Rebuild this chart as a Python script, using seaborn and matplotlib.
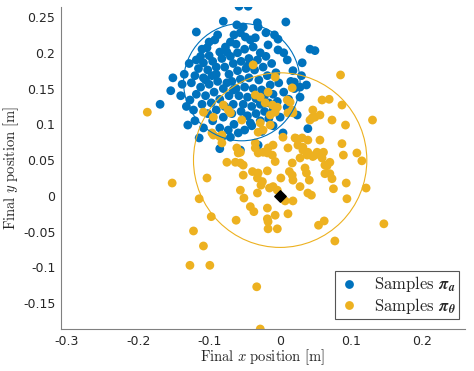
import matplotlib
matplotlib.use("Agg")
import matplotlib.pyplot as plt
from matplotlib.patches import Circle
import pandas as pd
import seaborn as sns

# Final positions
blue_x = [
    -0.058, -0.045, 0.008, -0.080, -0.118, -0.032, -0.031, -0.061, -0.052, -0.056,
    -0.049, -0.042, -0.035, -0.092, -0.070, -0.077, -0.085, -0.075, 0.042, 0.049,
    0.031, 0.030, -0.003, -0.017, -0.003, 0.028, 0.028, 0.039, 0.024, 0.010,
    -0.169, -0.154, -0.151, -0.138, -0.130, -0.114, -0.127, -0.122, -0.085, -0.073,
    -0.082, -0.070, -0.059, -0.042, -0.085, -0.056, -0.031, 0.004, 0.020, 0.037,
    -0.110, -0.103, -0.112, -0.100, -0.108, -0.095, -0.115, -0.102, -0.090, -0.120,
    -0.108, -0.096, -0.125, -0.112, -0.100, -0.088, -0.118, -0.105, -0.093, -0.080,
    -0.110, -0.097, -0.085, -0.072, -0.102, -0.090, -0.078, -0.066, -0.095, -0.080,
    -0.068, -0.055, -0.082, -0.070, -0.060, -0.050, -0.038, -0.028, -0.078, -0.066,
    -0.055, -0.044, -0.032, -0.020, -0.072, -0.060, -0.048, -0.036, -0.024, -0.012,
    -0.068, -0.056, -0.044, -0.030, -0.018, -0.006, -0.062, -0.050, -0.038, -0.026,
    -0.014, -0.002, -0.058, -0.046, -0.034, -0.022, -0.010, 0.005, -0.052, -0.040,
    -0.028, -0.016, -0.004, 0.012, -0.046, -0.034, -0.022, -0.010, -0.040, -0.028,
    -0.016, -0.065, -0.050, 0.015, 0.018, 0.010, 0.020, 0.005, -0.008, -0.020,
    -0.065, -0.088, -0.100, -0.128, -0.135, -0.140, -0.132, -0.120, -0.108, 0.000,
    0.015, -0.026, -0.010, -0.090, -0.062, -0.045, -0.075, -0.105, -0.118, -0.066,
]
blue_y = [
    0.265, 0.265, 0.243, 0.244, 0.229, 0.242, 0.236, 0.239, 0.236, 0.228,
    0.222, 0.218, 0.221, 0.218, 0.215, 0.208, 0.201, 0.201, 0.205, 0.203,
    0.186, 0.168, 0.219, 0.211, 0.204, 0.152, 0.138, 0.094, 0.113, 0.124,
    0.128, 0.147, 0.165, 0.156, 0.099, 0.081, 0.134, 0.120, 0.095, 0.092,
    0.082, 0.082, 0.088, 0.102, 0.066, 0.064, 0.071, 0.088, 0.159, 0.155,
    0.205, 0.207, 0.195, 0.196, 0.186, 0.188, 0.178, 0.176, 0.180, 0.168,
    0.165, 0.168, 0.158, 0.152, 0.156, 0.160, 0.142, 0.140, 0.145, 0.150,
    0.128, 0.130, 0.135, 0.140, 0.115, 0.120, 0.125, 0.128, 0.105, 0.110,
    0.115, 0.118, 0.192, 0.195, 0.200, 0.205, 0.208, 0.200, 0.180, 0.185,
    0.188, 0.192, 0.190, 0.195, 0.170, 0.175, 0.178, 0.176, 0.180, 0.185,
    0.160, 0.163, 0.165, 0.162, 0.168, 0.172, 0.150, 0.152, 0.150, 0.148,
    0.155, 0.158, 0.140, 0.138, 0.136, 0.140, 0.142, 0.145, 0.128, 0.125,
    0.128, 0.130, 0.132, 0.135, 0.112, 0.115, 0.118, 0.120, 0.098, 0.105,
    0.108, 0.100, 0.092, 0.160, 0.175, 0.190, 0.150, 0.200, 0.225, 0.228,
    0.225, 0.225, 0.215, 0.185, 0.170, 0.140, 0.125, 0.105, 0.095, 0.110,
    0.120, 0.090, 0.098, 0.170, 0.212, 0.182, 0.158, 0.162, 0.190, 0.148,
]

gold_x = [
    -0.152, -0.103, -0.114, -0.097, -0.122, -0.108, -0.127, -0.099, -0.062, -0.056,
    -0.051, -0.042, -0.037, -0.032, -0.027, -0.018, -0.018, -0.017, -0.017, -0.004,
    -0.007, 0.011, -0.015, -0.010, -0.004, 0.001, 0.007, 0.018, 0.028, 0.039,
    0.044, 0.054, 0.062, 0.077, 0.094, 0.075, 0.093, 0.121, 0.146, -0.033,
    -0.028, 0.115, 0.108, 0.087, 0.089, 0.070, 0.066, 0.063, 0.070, 0.073,
    0.056, 0.061, 0.052, 0.059, 0.046, 0.039, 0.031, 0.023, 0.032, 0.039,
    0.028, 0.038, 0.037, 0.041, 0.011, 0.017, 0.013, 0.017, 0.018, 0.004,
    -0.010, -0.017, -0.018, -0.011, -0.007, -0.024, -0.031, -0.035, -0.035, -0.039,
    -0.031, -0.032, -0.018, -0.025, -0.052, -0.056, -0.063, -0.075, -0.052, -0.061,
    -0.056, -0.059, -0.082, -0.094, -0.082, 0.035, 0.025, 0.049, 0.021, 0.032,
    -0.187, -0.108, -0.094, -0.096, -0.085, -0.080, -0.073, -0.070, -0.038, -0.054,
    -0.035, -0.028, -0.021, -0.017, -0.011, -0.004, -0.007, -0.014, -0.014, -0.028,
    -0.031, -0.024, 0.010, 0.017, 0.017, 0.011, -0.007, 0.046, 0.049, 0.045,
    0.085, 0.059, 0.069, 0.087, 0.130, 0.092, 0.073, 0.056, 0.042, 0.014,
    0.018, 0.063,
]
gold_y = [
    0.018, 0.025, -0.004, -0.029, -0.049, -0.070, -0.097, -0.097, -0.034, 0.008,
    -0.003, -0.015, -0.022, 0.004, 0.015, -0.017, -0.032, -0.036, -0.046, -0.046,
    -0.027, -0.025, 0.011, 0.013, 0.008, 0.025, -0.007, -0.007, 0.013, 0.004,
    0.001, -0.041, -0.035, -0.063, -0.004, 0.010, 0.018, 0.011, -0.039, -0.127,
    -0.186, 0.049, 0.060, 0.073, 0.057, 0.047, 0.042, 0.031, 0.031, 0.024,
    0.078, 0.061, 0.061, 0.053, 0.055, 0.078, 0.081, 0.080, 0.068, 0.061,
    0.053, 0.057, 0.032, 0.022, 0.067, 0.046, 0.034, 0.029, 0.022, 0.082,
    0.071, 0.067, 0.060, 0.057, 0.048, 0.061, 0.060, 0.067, 0.074, 0.034,
    0.032, 0.025, 0.035, 0.020, 0.043, 0.046, 0.047, 0.047, 0.029, 0.067,
    0.061, 0.060, 0.074, 0.085, 0.085, 0.039, 0.071, 0.057, 0.081, 0.064,
    0.117, 0.117, 0.110, 0.088, 0.083, 0.127, 0.120, 0.116, 0.183, 0.106,
    0.141, 0.138, 0.130, 0.145, 0.127, 0.124, 0.117, 0.113, 0.099, 0.102,
    0.089, 0.092, 0.134, 0.151, 0.120, 0.116, 0.166, 0.120, 0.110, 0.109,
    0.169, 0.134, 0.135, 0.127, 0.106, 0.099, 0.106, 0.113, 0.106, 0.131,
    0.116, 0.043,
]

# fitted circles and target
blue_center = (-0.054, 0.159)
blue_radius = 0.082
gold_center = (0.000, 0.050)
gold_radius = 0.122
target = (0.0, 0.0)

label_a = r"$\mathrm{Samples}\ \boldsymbol{\pi}_{\boldsymbol{a}}$"
label_t = r"$\mathrm{Samples}\ \boldsymbol{\pi}_{\boldsymbol{\theta}}$"

c_blue = "#0072BD"
c_gold = "#EDB120"

df = pd.concat([
    pd.DataFrame({"x": blue_x, "y": blue_y, "group": label_a}),
    pd.DataFrame({"x": gold_x, "y": gold_y, "group": label_t}),
])

sns.set_style("white")
plt.rcParams["mathtext.fontset"] = "cm"
plt.rcParams["font.family"] = ["DejaVu Sans"]

fig = plt.figure(figsize=(4.74, 3.71), dpi=100)
ax = fig.add_axes([0.1287, 0.1132, 0.852, 0.868])

sns.scatterplot(data=df, x="x", y="y", hue="group",
                palette={label_a: c_blue, label_t: c_gold},
                s=40, linewidth=0, alpha=1, ax=ax, zorder=2)

ax.add_patch(Circle(blue_center, blue_radius, fill=False, ec=c_blue, lw=0.8, zorder=3))
ax.add_patch(Circle(gold_center, gold_radius, fill=False, ec=c_gold, lw=0.8, zorder=3))
ax.scatter([target[0]], [target[1]], marker="D", s=34, c="black", zorder=4)

ax.set_xlim(-0.3085, 0.26)
ax.set_ylim(-0.186, 0.264)
ax.set_xticks([-0.3, -0.2, -0.1, 0, 0.1, 0.2])
ax.set_xticklabels(["-0.3", "-0.2", "-0.1", "0", "0.1", "0.2"])
ax.set_yticks([-0.15, -0.1, -0.05, 0, 0.05, 0.1, 0.15, 0.2, 0.25])
ax.set_yticklabels(["-0.15", "-0.1", "-0.05", "0", "0.05", "0.1", "0.15", "0.2", "0.25"])

for side in ["top", "right"]:
    ax.spines[side].set_visible(False)
for side in ["left", "bottom"]:
    ax.spines[side].set_color("#808080")
    ax.spines[side].set_linewidth(0.8)
ax.tick_params(direction="in", length=4, width=0.7, color="#808080",
               labelsize=9, labelcolor="#262626", pad=4)

ax.set_xlabel(r"$\mathrm{Final}\ x\ \mathrm{position}\ [\mathrm{m}]$", fontsize=10.5, color="#262626")
ax.set_ylabel(r"$\mathrm{Final}\ y\ \mathrm{position}\ [\mathrm{m}]$", fontsize=10.5, color="#262626")
ax.xaxis.set_label_coords(0.5, -0.057)
ax.yaxis.set_label_coords(-0.098, 0.5)

leg = ax.legend(loc="lower right", bbox_to_anchor=(0.985, 0.03), fontsize=12,
                frameon=True, fancybox=False, edgecolor="#555555", framealpha=1,
                borderaxespad=0, handletextpad=0.8, borderpad=0.2, labelspacing=0.1,
                handlelength=1.3)
leg.get_frame().set_linewidth(0.8)

plt.savefig("out.png", dpi=100)
